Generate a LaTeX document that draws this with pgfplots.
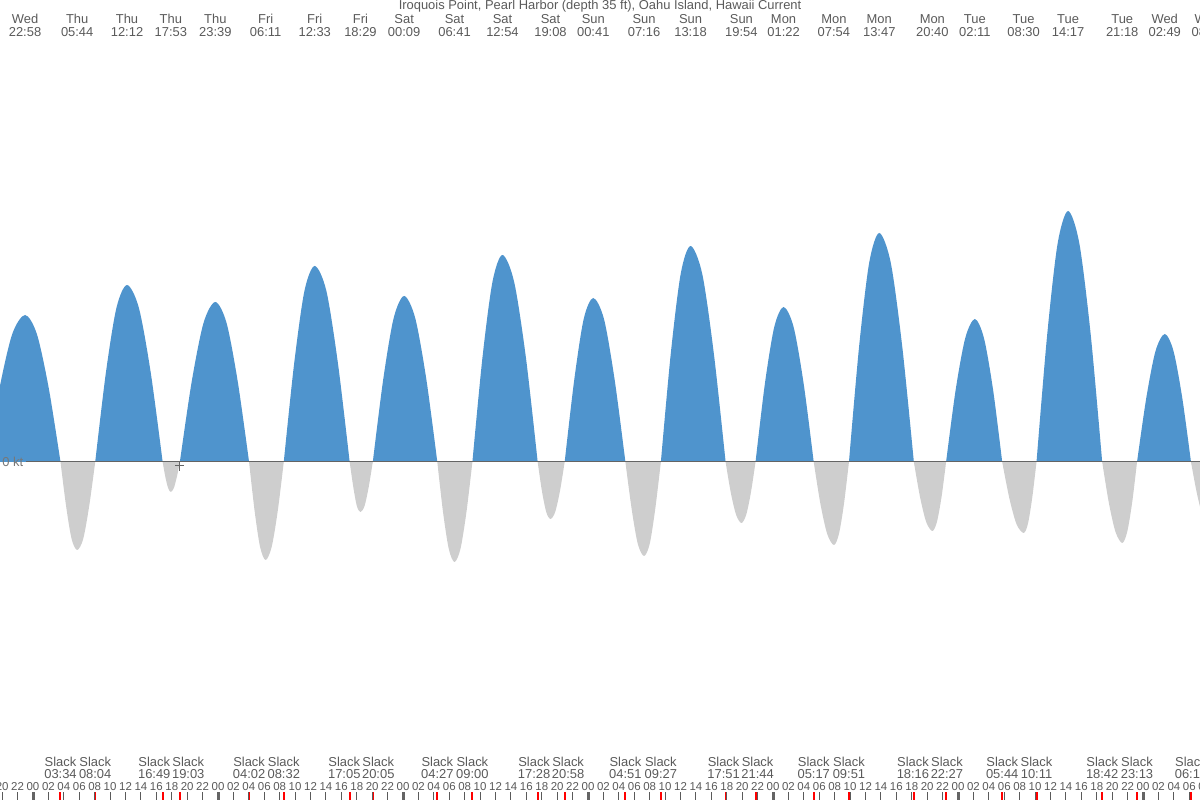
\documentclass[border=0pt]{standalone}
\usepackage{pgfplots}
\pgfplotsset{compat=1.18}
\usepackage{fontspec}
\setmainfont{Liberation Sans}

\definecolor{flood}{RGB}{79,148,205}
\definecolor{ebb}{RGB}{206,206,206}
\definecolor{labgray}{RGB}{90,90,90}
\definecolor{zerogray}{RGB}{100,100,100}

% x = hours from Thu 00:00, y = current (1 unit = 100 px)
\newcommand\peaklabel[3]{\node[lab] at (axis cs:#1,4.383) {#2}; \node[lab] at (axis cs:#1,4.255) {#3};}
\newcommand\slacklabel[2]{\node[lab] at (axis cs:#1,-3.04) {Slack}; \node[lab] at (axis cs:#1,-3.16) {#2};}

\begin{document}
\begin{tikzpicture}
\tikzset{lab/.style={font=\fontsize{9.7}{10}\selectfont, text=labgray, inner sep=0pt, anchor=base}}
\begin{axis}[
    scale only axis,
    width=900pt, height=600pt,
    xmin=-4.281, xmax=151.39,
    ymin=-3.38, ymax=4.62,
    clip=false,
    hide y axis,
    axis x line*=bottom,
    x axis line style={draw=none},
    xtick={-4,-2,...,150},
    xticklabel={\pgfmathtruncatemacro{\hh}{mod(round(\tick)+48,24)}\ifnum\hh<10 0\fi\hh},
    xticklabel style={anchor=base, yshift=7pt, font=\fontsize{8.6}{10}\selectfont, text=labgray, inner sep=0pt},
    tick align=inside,
    major tick length=6pt,
    minor tick length=6pt,
    tick style={labgray, line width=0.75pt},
    minor xtick={3.567,8.067,16.817,19.05,28.033,32.533,41.083,44.083,52.45,57.0,65.467,68.967,76.85,81.45,89.85,93.733,101.283,105.85,114.267,118.45,125.733,130.183,138.7,143.217,150.22},
    minor tick style={red, line width=1.5pt},
    extra x ticks={0,24,48,72,96,120,144},
    extra x tick labels={},
    extra x tick style={tick style={line width=2.25pt, draw=zerogray}},
    floodarea/.style={fill=flood, draw=none, smooth},
    ebbarea/.style={fill=ebb, draw=none, smooth},
]
\coordinate (sw) at (rel axis cs:0,0);
\coordinate (ne) at (rel axis cs:1,1);

% flood (positive)
\addplot[floodarea] coordinates {(-6.0,0) (-4.34,0.74) (-2.69,1.28) (-1.03,1.47) (0.50,1.28) (2.04,0.74) (3.57,0)} \closedcycle;
\addplot[floodarea] coordinates {(8.07,0) (9.45,0.89) (10.82,1.54) (12.2,1.77) (13.74,1.54) (15.28,0.89) (16.82,0)} \closedcycle;
\addplot[floodarea] coordinates {(19.05,0) (20.58,0.80) (22.12,1.39) (23.65,1.60) (25.11,1.39) (26.57,0.80) (28.03,0)} \closedcycle;
\addplot[floodarea] coordinates {(32.53,0) (33.87,0.98) (35.21,1.71) (36.55,1.96) (38.06,1.71) (39.57,0.98) (41.08,0)} \closedcycle;
\addplot[floodarea] coordinates {(44.08,0) (45.44,0.83) (46.79,1.44) (48.15,1.66) (49.58,1.44) (51.02,0.83) (52.45,0)} \closedcycle;
\addplot[floodarea] coordinates {(57.0,0) (58.3,1.04) (59.6,1.80) (60.9,2.07) (62.42,1.80) (63.95,1.04) (65.47,0)} \closedcycle;
\addplot[floodarea] coordinates {(68.97,0) (70.21,0.82) (71.44,1.43) (72.68,1.64) (74.07,1.43) (75.46,0.82) (76.85,0)} \closedcycle;
\addplot[floodarea] coordinates {(81.45,0) (82.73,1.08) (84.02,1.88) (85.3,2.16) (86.82,1.88) (88.33,1.08) (89.85,0)} \closedcycle;
\addplot[floodarea] coordinates {(93.73,0) (94.94,0.78) (96.16,1.35) (97.37,1.55) (98.67,1.35) (99.98,0.78) (101.28,0)} \closedcycle;
\addplot[floodarea] coordinates {(105.85,0) (107.16,1.15) (108.47,1.99) (109.78,2.29) (111.28,1.99) (112.77,1.15) (114.27,0)} \closedcycle;
\addplot[floodarea] coordinates {(118.45,0) (119.69,0.72) (120.94,1.24) (122.18,1.43) (123.36,1.24) (124.55,0.72) (125.73,0)} \closedcycle;
\addplot[floodarea] coordinates {(130.18,0) (131.55,1.26) (132.91,2.18) (134.28,2.51) (135.75,2.18) (137.23,1.26) (138.7,0)} \closedcycle;
\addplot[floodarea] coordinates {(143.22,0) (144.42,0.64) (145.62,1.11) (146.82,1.28) (147.95,1.11) (149.09,0.64) (150.22,0)} \closedcycle;

% ebb (negative)
\addplot[ebbarea] coordinates {(3.57,0) (4.29,-0.44) (5.01,-0.77) (5.73,-0.88) (6.51,-0.77) (7.29,-0.44) (8.07,0)} \closedcycle;
\addplot[ebbarea] coordinates {(16.82,0) (17.17,-0.15) (17.53,-0.26) (17.88,-0.30) (18.27,-0.26) (18.66,-0.15) (19.05,0)} \closedcycle;
\addplot[ebbarea] coordinates {(28.03,0) (28.75,-0.49) (29.46,-0.85) (30.18,-0.98) (30.96,-0.85) (31.75,-0.49) (32.53,0)} \closedcycle;
\addplot[ebbarea] coordinates {(41.08,0) (41.55,-0.25) (42.01,-0.44) (42.48,-0.50) (43.01,-0.44) (43.55,-0.25) (44.08,0)} \closedcycle;
\addplot[ebbarea] coordinates {(52.45,0) (53.19,-0.50) (53.94,-0.87) (54.68,-1.00) (55.45,-0.87) (56.23,-0.50) (57.0,0)} \closedcycle;
\addplot[ebbarea] coordinates {(65.47,0) (66.02,-0.29) (66.58,-0.50) (67.13,-0.57) (67.74,-0.50) (68.36,-0.29) (68.97,0)} \closedcycle;
\addplot[ebbarea] coordinates {(76.85,0) (77.66,-0.47) (78.46,-0.82) (79.27,-0.94) (80.0,-0.82) (80.72,-0.47) (81.45,0)} \closedcycle;
\addplot[ebbarea] coordinates {(89.85,0) (90.53,-0.31) (91.22,-0.53) (91.9,-0.61) (92.51,-0.53) (93.12,-0.31) (93.73,0)} \closedcycle;
\addplot[ebbarea] coordinates {(101.28,0) (102.15,-0.42) (103.03,-0.72) (103.9,-0.83) (104.55,-0.72) (105.2,-0.42) (105.85,0)} \closedcycle;
\addplot[ebbarea] coordinates {(114.27,0) (115.07,-0.35) (115.87,-0.60) (116.67,-0.69) (117.26,-0.60) (117.86,-0.35) (118.45,0)} \closedcycle;
\addplot[ebbarea] coordinates {(125.73,0) (126.65,-0.36) (127.58,-0.62) (128.5,-0.71) (129.06,-0.62) (129.62,-0.36) (130.18,0)} \closedcycle;
\addplot[ebbarea] coordinates {(138.7,0) (139.57,-0.41) (140.43,-0.70) (141.3,-0.81) (141.94,-0.70) (142.58,-0.41) (143.22,0)} \closedcycle;
\addplot[ebbarea] coordinates {(150.22,0) (150.95,-0.30) (151.67,-0.52) (152.4,-0.60) (153.13,-0.52) (153.87,-0.30) (154.6,0)} \closedcycle;

% zero line and marker
\addplot[zerogray, line width=0.75pt] coordinates {(-0.91,0) (151.39,0)};
\addplot[only marks, mark=+, mark size=3.4pt, mark options={zerogray, line width=0.75pt}] coordinates {(19.05,-0.04)};
\node[lab, anchor=base west, text={rgb,255:red,120;green,120;blue,120}] at (axis cs:-4.02,-0.045) {0 kt};

% title
\node[lab] at (axis cs:73.56,4.525) {Iroquois Point, Pearl Harbor (depth 35 ft), Oahu Island, Hawaii Current};

% peak labels
\peaklabel{-1.033}{Wed}{22:58}
\peaklabel{5.733}{Thu}{05:44}
\peaklabel{12.2}{Thu}{12:12}
\peaklabel{17.883}{Thu}{17:53}
\peaklabel{23.65}{Thu}{23:39}
\peaklabel{30.183}{Fri}{06:11}
\peaklabel{36.55}{Fri}{12:33}
\peaklabel{42.483}{Fri}{18:29}
\peaklabel{48.15}{Sat}{00:09}
\peaklabel{54.683}{Sat}{06:41}
\peaklabel{60.9}{Sat}{12:54}
\peaklabel{67.133}{Sat}{19:08}
\peaklabel{72.683}{Sun}{00:41}
\peaklabel{79.267}{Sun}{07:16}
\peaklabel{85.3}{Sun}{13:18}
\peaklabel{91.9}{Sun}{19:54}
\peaklabel{97.367}{Mon}{01:22}
\peaklabel{103.9}{Mon}{07:54}
\peaklabel{109.783}{Mon}{13:47}
\peaklabel{116.667}{Mon}{20:40}
\peaklabel{122.183}{Tue}{02:11}
\peaklabel{128.5}{Tue}{08:30}
\peaklabel{134.283}{Tue}{14:17}
\peaklabel{141.3}{Tue}{21:18}
\peaklabel{146.817}{Wed}{02:49}
\peaklabel{152.4}{Wed}{08:24}

% slack labels (close pairs pushed apart, as in the reference)
\slacklabel{3.567}{03:34}
\slacklabel{8.067}{08:04}
\slacklabel{15.73}{16:49}
\slacklabel{20.14}{19:03}
\slacklabel{28.033}{04:02}
\slacklabel{32.533}{08:32}
\slacklabel{40.38}{17:05}
\slacklabel{44.79}{20:05}
\slacklabel{52.45}{04:27}
\slacklabel{57.0}{09:00}
\slacklabel{65.01}{17:28}
\slacklabel{69.42}{20:58}
\slacklabel{76.85}{04:51}
\slacklabel{81.45}{09:27}
\slacklabel{89.59}{17:51}
\slacklabel{94.0}{21:44}
\slacklabel{101.283}{05:17}
\slacklabel{105.85}{09:51}
\slacklabel{114.15}{18:16}
\slacklabel{118.56}{22:27}
\slacklabel{125.733}{05:44}
\slacklabel{130.183}{10:11}
\slacklabel{138.7}{18:42}
\slacklabel{143.217}{23:13}
\slacklabel{150.22}{06:13}

% hour label just past the right edge
\node[lab, font=\fontsize{8.6}{10}\selectfont] at (axis cs:152,-3.287) {08};
\end{axis}
\pgfresetboundingbox
\useasboundingbox (sw) rectangle (ne);
\end{tikzpicture}
\end{document}
